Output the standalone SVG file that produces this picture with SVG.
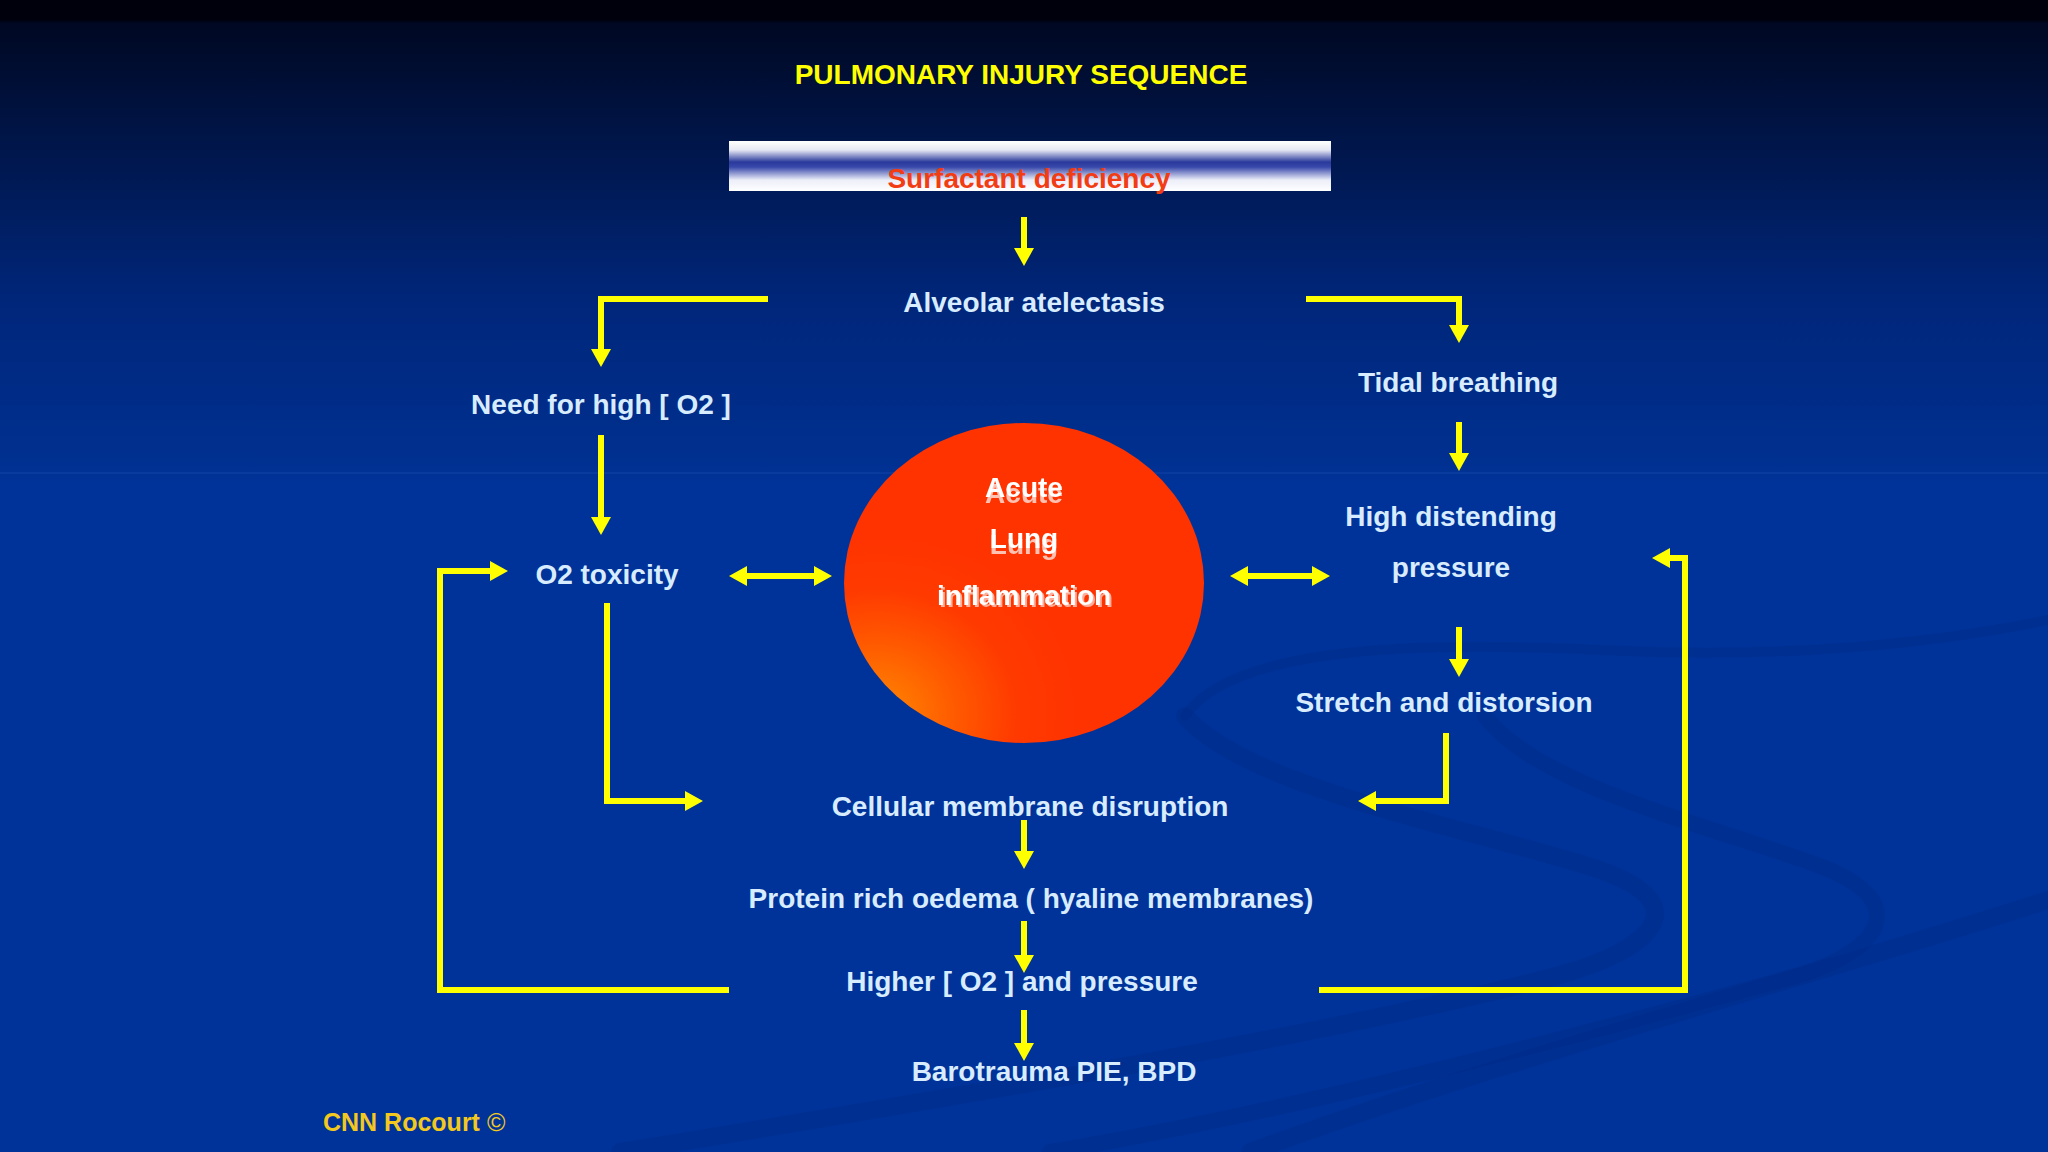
<svg xmlns="http://www.w3.org/2000/svg" width="2048" height="1152" viewBox="0 0 2048 1152">
  <defs>
    <linearGradient id="bg" x1="0" y1="0" x2="0" y2="1152" gradientUnits="userSpaceOnUse">
      <stop offset="0" stop-color="#00000c"/>
      <stop offset="0.017" stop-color="#00000c"/>
      <stop offset="0.02" stop-color="#000822"/>
      <stop offset="0.12" stop-color="#001548"/>
      <stop offset="0.26" stop-color="#00267a"/>
      <stop offset="0.40" stop-color="#003090"/>
      <stop offset="0.42" stop-color="#003399"/>
      <stop offset="1" stop-color="#003399"/>
    </linearGradient>
    <linearGradient id="bar" x1="0" y1="0" x2="0" y2="1">
      <stop offset="0" stop-color="#ffffff"/>
      <stop offset="0.18" stop-color="#e6e8f4"/>
      <stop offset="0.42" stop-color="#2a3a9c"/>
      <stop offset="0.52" stop-color="#3848aa"/>
      <stop offset="0.78" stop-color="#eceef8"/>
      <stop offset="1" stop-color="#ffffff"/>
    </linearGradient>
    <radialGradient id="ball" cx="0.1" cy="0.9" r="0.55" fx="0.08" fy="0.92">
      <stop offset="0" stop-color="#ff8c00"/>
      <stop offset="0.4" stop-color="#ff5a00"/>
      <stop offset="0.7" stop-color="#ff3a00"/>
      <stop offset="1" stop-color="#ff3300"/>
    </radialGradient>
    <filter id="ghost" x="-20%" y="-20%" width="140%" height="160%">
      <feOffset in="SourceGraphic" dx="0" dy="6" result="off"/>
      <feColorMatrix in="off" type="matrix" values="1 0 0 0 0  0 1 0 0 0  0 0 1 0 0  0 0 0 0.7 0" result="offa"/>
      <feMerge><feMergeNode in="offa"/><feMergeNode in="SourceGraphic"/></feMerge>
    </filter>
    <filter id="soft" x="-10%" y="-20%" width="120%" height="160%">
      <feOffset in="SourceGraphic" dx="1.5" dy="2" result="off"/>
      <feColorMatrix in="off" type="matrix" values="1 0 0 0 0  0 1 0 0 0  0 0 1 0 0  0 0 0 0.6 0" result="offa"/>
      <feMerge><feMergeNode in="offa"/><feMergeNode in="SourceGraphic"/></feMerge>
    </filter>
    <marker id="ah" markerUnits="userSpaceOnUse" markerWidth="18" markerHeight="20" viewBox="0 0 18 20" refX="0" refY="10" orient="auto-start-reverse">
      <path d="M0,0 L18,10 L0,20 Z" fill="#ffff00"/>
    </marker>
    <style>
      .lbl { font-family: "Liberation Sans", Arial, sans-serif; font-weight: bold; font-size: 28px; fill: #d8ecff; text-anchor: middle; }
      .ball { font-family: "Liberation Sans", Arial, sans-serif; font-weight: bold; font-size: 28px; fill: #ffffff; text-anchor: middle; }
      .conn { fill: none; stroke: #ffff00; stroke-width: 6; stroke-linecap: butt; stroke-linejoin: miter; }
      .swoosh { fill: none; stroke: #002b86; stroke-opacity: 0.4; stroke-linecap: round; }
    </style>
  </defs>

  <!-- background -->
  <rect x="0" y="0" width="2048" height="1152" fill="url(#bg)"/>
  <line x1="0" y1="473" x2="2048" y2="473" stroke="#1f4fb2" stroke-width="1" opacity="0.6"/>
  <g id="decor">
    <path class="swoosh" stroke-width="18" d="M1185,716 C1250,790 1480,830 1600,870 C1700,905 1650,950 1560,975 C1350,1030 1000,1090 620,1152"/>
    <path class="swoosh" stroke-width="16" d="M1485,716 C1540,790 1730,830 1830,870 C1910,905 1880,950 1800,975 C1600,1030 1300,1110 1050,1152"/>
    <path class="swoosh" stroke-width="18" d="M2048,900 C1800,980 1500,1060 1250,1152"/>
    <path class="swoosh" stroke-width="10" stroke-opacity="0.25" d="M1185,716 C1230,650 1400,640 1600,650 C1800,660 1950,640 2048,620"/>
  </g>

  <!-- title -->
  <g id="title">
    <text x="1021" y="84" style="font-family: 'Liberation Sans', Arial, sans-serif; font-weight: bold; font-size: 28px; fill: #ffff00; text-anchor: middle;">PULMONARY INJURY SEQUENCE</text>
  </g>

  <!-- nodes -->
  <g id="surfactant">
    <rect x="729" y="141" width="602" height="50" fill="url(#bar)"/>
    <text x="1029" y="188" style="font-family: 'Liberation Sans', Arial, sans-serif; font-weight: bold; font-size: 28px; fill: #f23c14; text-anchor: middle;">Surfactant deficiency</text>
  </g>
  <g id="alveolar"><text class="lbl" x="1034" y="312">Alveolar atelectasis</text></g>
  <g id="need-o2"><text class="lbl" x="601" y="414">Need for high [ O2 ]</text></g>
  <g id="o2-toxicity"><text class="lbl" x="607" y="584">O2 toxicity</text></g>
  <g id="ali">
    <ellipse cx="1024" cy="583" rx="180" ry="160" fill="url(#ball)"/>
    <text class="ball" x="1024" y="497" filter="url(#ghost)">Acute</text>
    <text class="ball" x="1024" y="548" filter="url(#ghost)">Lung</text>
    <text class="ball" x="1024" y="605" filter="url(#soft)">inflammation</text>
  </g>
  <g id="tidal"><text class="lbl" x="1458" y="392">Tidal breathing</text></g>
  <g id="high-distending">
    <text class="lbl" x="1451" y="526">High distending</text>
    <text class="lbl" x="1451" y="577">pressure</text>
  </g>
  <g id="stretch"><text class="lbl" x="1444" y="712">Stretch and distorsion</text></g>
  <g id="cellular"><text class="lbl" x="1030" y="816">Cellular membrane disruption</text></g>
  <g id="protein"><text class="lbl" x="1031" y="908">Protein rich oedema ( hyaline membranes)</text></g>
  <g id="higher"><text class="lbl" x="1022" y="991">Higher [ O2 ] and pressure</text></g>
  <g id="barotrauma"><text class="lbl" x="1054" y="1081">Barotrauma PIE, BPD</text></g>

  <g id="credit">
    <text x="323" y="1131" style="font-family: 'Liberation Sans', Arial, sans-serif; font-size: 25px; fill: #f2c81e;"><tspan font-weight="bold">CNN Rocourt </tspan>©</text>
  </g>

  <!-- connectors -->
  <g id="connectors">
    <path class="conn" marker-end="url(#ah)" d="M1024,217 V248"/>
    <path class="conn" marker-end="url(#ah)" d="M768,299 H601 V349"/>
    <path class="conn" marker-end="url(#ah)" d="M601,435 V517"/>
    <path class="conn" marker-start="url(#ah)" marker-end="url(#ah)" d="M747,576 H814"/>
    <path class="conn" marker-start="url(#ah)" marker-end="url(#ah)" d="M1248,576 H1312"/>
    <path class="conn" marker-end="url(#ah)" d="M1306,299 H1459 V325"/>
    <path class="conn" marker-end="url(#ah)" d="M1459,422 V453"/>
    <path class="conn" marker-end="url(#ah)" d="M1459,627 V659"/>
    <path class="conn" marker-end="url(#ah)" d="M1446,733 V801 H1376"/>
    <path class="conn" marker-end="url(#ah)" d="M607,603 V801 H685"/>
    <path class="conn" marker-end="url(#ah)" d="M1024,820 V851"/>
    <path class="conn" marker-end="url(#ah)" d="M1024,921 V955"/>
    <path class="conn" marker-end="url(#ah)" d="M1024,1010 V1043"/>
    <path class="conn" marker-end="url(#ah)" d="M729,990 H440 V571 H490"/>
    <path class="conn" marker-end="url(#ah)" d="M1319,990 H1685 V558 H1670"/>
  </g>
</svg>
